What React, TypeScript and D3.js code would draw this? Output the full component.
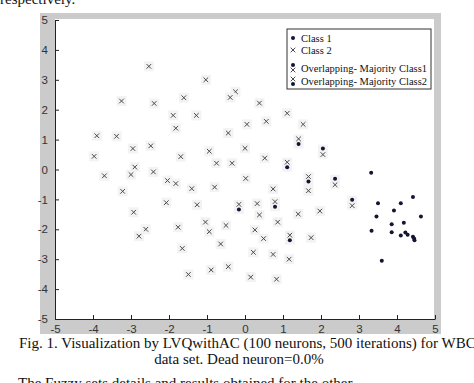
import React, { useEffect, useRef } from "react";
import * as d3 from "d3";

const xTicks = [-5, -4, -3, -2, -1, 0, 1, 2, 3, 4, 5];
const yTicks = [-5, -4, -3, -2, -1, 0, 1, 2, 3, 4, 5];

const class1: [number, number][] = [
  [3.32, -0.11], [4.42, -0.92], [3.5, -1.13], [4.1, -1.13], [3.92, -1.37],
  [3.46, -1.57], [4.63, -1.57], [3.86, -1.83], [4.18, -1.78], [3.33, -2.05],
  [3.86, -2.1], [4.22, -2.11], [4.28, -2.18], [4.1, -2.21], [4.42, -2.25],
  [4.45, -2.31], [4.46, -2.37], [3.6, -3.05],
];

const class2: [number, number][] = [
  [-2.53, 3.45], [-3.25, 2.29], [-2.39, 2.21], [-3.9, 1.13], [-3.38, 1.11],
  [-2.95, 0.7], [-2.48, 0.79], [-3.97, 0.44], [-2.9, 0.08], [-3.7, -0.21],
  [-3.0, -0.17], [-2.41, -0.08], [-1.03, 3.0], [-0.25, 2.6], [-0.39, 2.41],
  [-1.61, 2.4], [0.38, 2.22], [-1.89, 1.81], [-1.28, 1.81], [1.11, 1.88],
  [0.05, 1.51], [0.56, 1.61], [1.53, 1.51], [-1.82, 1.38], [-0.44, 1.22],
  [-1.69, 0.43], [-0.94, 0.61], [0.0, 0.71], [-0.75, 0.21], [-0.34, 0.21],
  [0.52, 0.38], [0.02, -0.3], [1.67, -0.71], [-3.22, -0.73], [-2.93, -1.43],
  [-2.61, -2.0], [-2.79, -2.23], [-2.04, -0.37], [-1.82, -0.47], [-1.4, -0.64],
  [-0.8, -0.59], [0.74, -0.65], [1.97, -1.39], [1.4, -1.49], [1.74, -2.28],
  [-2.07, -1.11], [-1.26, -1.18], [0.32, -1.14], [0.38, -1.52], [-1.04, -1.76],
  [0.86, -1.76], [-1.76, -1.93], [-0.94, -2.08], [-0.5, -1.87], [0.26, -2.02],
  [0.49, -2.31], [-1.65, -2.64], [-0.64, -2.49], [0.22, -2.77], [0.74, -2.84],
  [1.16, -3.0], [-1.49, -3.51], [-0.89, -3.36], [-0.44, -3.25], [0.15, -3.6],
  [0.83, -3.67],
];

const overlapMaj1: [number, number][] = [
  [2.05, 0.6], [2.37, -0.41], [2.82, -1.11],
];

const overlapMaj2: [number, number][] = [
  [1.41, 0.94], [1.11, 0.16], [1.67, -0.32], [-0.16, -1.25], [0.79, -1.16],
  [1.18, -2.28],
];

const legendLabels = [
  "Class 1",
  "Class 2",
  "Overlapping- Majority Class1",
  "Overlapping- Majority Class2",
];

const captionLines = [
  "Fig. 1. Visualization by LVQwithAC (100 neurons, 500 iterations) for WBC",
  "data set. Dead neuron=0.0%",
];

const W = 474;
const H = 383;

const XC = "#4a4a4a";
const DC = "#141433";

function XMark({ cx, cy, halo = true }: { cx: number; cy: number; halo?: boolean }) {
  const s = 2.3;
  return (
    <g>
      {halo && <rect x={cx - 5} y={cy - 5} width={10} height={10} fill="#f3f3f3" />}
      <line x1={cx - s} y1={cy - s} x2={cx + s} y2={cy + s} stroke={XC} strokeWidth={1} />
      <line x1={cx - s} y1={cy + s} x2={cx + s} y2={cy - s} stroke={XC} strokeWidth={1} />
    </g>
  );
}

function Dot({ cx, cy }: { cx: number; cy: number }) {
  return <circle cx={cx} cy={cy} r={2} fill={DC} />;
}

export default function App() {
  const xAxisRef = useRef<SVGGElement>(null);
  const yAxisRef = useRef<SVGGElement>(null);

  const x = d3.scaleLinear().domain([-5, 5]).range([55, 435]);
  const y = d3.scaleLinear().domain([-5, 5]).range([319, 20]);

  useEffect(() => {
    const fmt = (d: d3.NumberValue) => String(d);
    if (xAxisRef.current) {
      const g = d3.select(xAxisRef.current);
      g.call(
        d3.axisBottom(x).tickValues(xTicks).tickSizeInner(-4).tickSizeOuter(0).tickPadding(6).tickFormat(fmt)
      );
      g.selectAll("text").attr("font-family", "Liberation Sans, Arial, sans-serif").attr("font-size", 11.5).attr("fill", "#333");
      g.selectAll("line").attr("stroke", "#222");
      g.select(".domain").attr("stroke", "#222");
    }
    if (yAxisRef.current) {
      const g = d3.select(yAxisRef.current);
      g.call(
        d3.axisLeft(y).tickValues(yTicks).tickSizeInner(-4).tickSizeOuter(0).tickPadding(7).tickFormat(fmt)
      );
      g.selectAll("text").attr("font-family", "Liberation Sans, Arial, sans-serif").attr("font-size", 11.5).attr("fill", "#333");
      g.selectAll("line").attr("stroke", "#222");
      g.select(".domain").attr("stroke", "#222");
    }
  }, []);

  const lgX = 287, lgY = 29, lgW = 144, lgH = 60;
  const rowY = [38, 50, 68, 81];
  const symX = 293;

  return (
    <svg width={W} height={H} style={{ position: "absolute", left: 0, top: 0, background: "#fff" }}>
      <text x={0} y={4} fontFamily="Liberation Serif, Times New Roman, serif" fontSize={15} fill="#111">
        respectively.
      </text>
      <rect x={40} y={13} width={401} height={321} fill="#cbcbcb" />
      <rect x={55} y={19} width={379} height={300} fill="#ffffff" />

      {class2.map(([a, b], i) => (
        <XMark key={"c2" + i} cx={x(a)} cy={y(b)} />
      ))}
      {overlapMaj1.map(([a, b], i) => (
        <g key={"o1" + i}>
          <rect x={x(a) - 5} y={y(b) - 7} width={10} height={14} fill="#f3f3f3" />
          <Dot cx={x(a)} cy={y(b) - 3} />
          <XMark cx={x(a)} cy={y(b) + 3} halo={false} />
        </g>
      ))}
      {overlapMaj2.map(([a, b], i) => (
        <g key={"o2" + i}>
          <rect x={x(a) - 5} y={y(b) - 7} width={10} height={14} fill="#f3f3f3" />
          <XMark cx={x(a)} cy={y(b) - 2.5} halo={false} />
          <Dot cx={x(a)} cy={y(b) + 2.5} />
        </g>
      ))}
      {class1.map(([a, b], i) => (
        <Dot key={"c1" + i} cx={x(a)} cy={y(b)} />
      ))}

      <g ref={xAxisRef} transform="translate(0,319)" />
      <g ref={yAxisRef} transform="translate(55,0)" />

      <rect x={lgX} y={lgY} width={lgW} height={lgH} fill="#fff" stroke="#333" strokeWidth={1} />
      <Dot cx={symX} cy={rowY[0]} />
      <XMark cx={symX} cy={rowY[1]} halo={false} />
      <Dot cx={symX} cy={rowY[2] - 3} />
      <XMark cx={symX} cy={rowY[2] + 2} halo={false} />
      <XMark cx={symX} cy={rowY[3] - 2} halo={false} />
      <Dot cx={symX} cy={rowY[3] + 3} />
      {legendLabels.map((t, i) => (
        <text key={t} x={301} y={rowY[i] + 4} fontFamily="Liberation Serif, Times New Roman, serif" fontSize={10.5} fill="#111">
          {t}
        </text>
      ))}

      <text x={19} y={348} fontFamily="Liberation Serif, Times New Roman, serif" fontSize={15} fill="#111">
        {captionLines[0]}
      </text>
      <text x={239} y={364} textAnchor="middle" fontFamily="Liberation Serif, Times New Roman, serif" fontSize={15} fill="#111">
        {captionLines[1]}
      </text>
      <text x={18} y={388} fontFamily="Liberation Serif, Times New Roman, serif" fontSize={15} fill="#111">
        The Fuzzy sets details and results obtained for the other
      </text>
    </svg>
  );
}
